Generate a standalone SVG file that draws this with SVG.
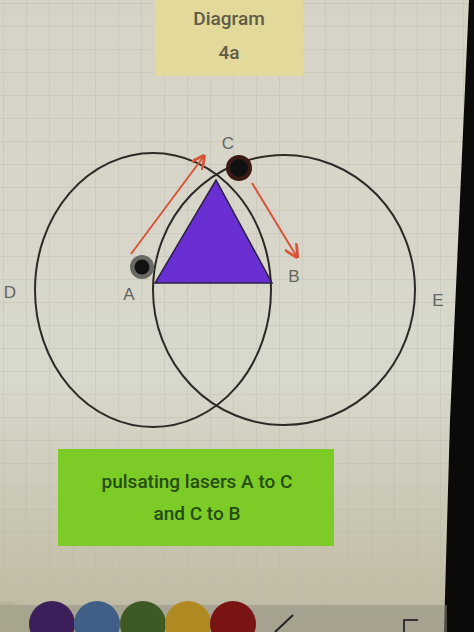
<svg xmlns="http://www.w3.org/2000/svg" width="474" height="632" viewBox="0 0 474 632">
<defs>
<pattern id="grid" width="23" height="23" patternUnits="userSpaceOnUse" x="4" y="4">
<path d="M23 0V23H0" fill="none" stroke="#b9b7ab" stroke-width="1"/>
</pattern>
<linearGradient id="bg" x1="0" y1="0" x2="0" y2="1">
<stop offset="0" stop-color="#d6d3c6"/>
<stop offset="0.6" stop-color="#d9d8cc"/>
<stop offset="1" stop-color="#bdb89f"/>
</linearGradient>
<marker id="arr" viewBox="0 0 10 10" refX="9" refY="5" markerWidth="7" markerHeight="7" orient="auto">
<path d="M0 0L10 5L0 10" fill="none" stroke="#d8553a" stroke-width="2"/>
</marker>
<style>
.lbl{font-family:"Liberation Sans",Arial,sans-serif;font-size:17px;fill:#66645e;text-anchor:middle}
.circ{fill:none;stroke:#2c2a26;stroke-width:2}
.laser{stroke:#d8553a;stroke-width:2;fill:none;marker-end:url(#arr)}
.box{font-family:"Roboto","Liberation Sans",sans-serif;text-anchor:middle;font-weight:500}
</style>
</defs>
<rect width="474" height="632" fill="url(#bg)"/>
<rect width="474" height="632" fill="url(#grid)" opacity="0.7"/>
<polygon points="469,0 474,0 474,632 444,632 450,420" fill="#0c0a08"/>

<g id="title">
<rect x="155" y="0" width="148" height="76" fill="#e3d99a"/>
<text class="box" x="229" y="25" font-size="19" fill="#5f5b48">Diagram</text>
<text class="box" x="229" y="59" font-size="19" fill="#5f5b48">4a</text>
</g>

<g id="circleD"><ellipse class="circ" cx="153" cy="290" rx="118" ry="137"/></g>
<g id="circleE"><ellipse class="circ" cx="284" cy="290" rx="131" ry="135"/></g>

<g id="triangle"><polygon points="155,283 272,283 216,180" fill="#6a2fd2" stroke="#2a2040" stroke-width="1.5"/></g>

<g id="connectors">
<line class="laser" x1="131" y1="254" x2="204" y2="156"/>
<line class="laser" x1="252" y1="183" x2="297" y2="257"/>
</g>

<g id="pointA">
<circle cx="142" cy="267" r="12" fill="#6a6864"/>
<circle cx="142" cy="267" r="7.5" fill="#111"/>
</g>
<g id="pointC">
<circle cx="239" cy="168" r="13" fill="#3a1a12"/>
<circle cx="239" cy="168" r="9" fill="#111"/>
</g>

<g id="labels">
<text class="lbl" x="228" y="149">C</text>
<text class="lbl" x="129" y="300">A</text>
<text class="lbl" x="294" y="282">B</text>
<text class="lbl" x="10" y="298">D</text>
<text class="lbl" x="438" y="306">E</text>
</g>

<g id="caption">
<rect x="58" y="449" width="276" height="97" fill="#7ccb26"/>
<text class="box" x="197" y="488" font-size="19" fill="#254d10">pulsating lasers A to C</text>
<text class="box" x="197" y="520" font-size="19" fill="#254d10">and C to B</text>
</g>

<g id="toolbar">
<rect x="0" y="605" width="447" height="27" fill="#8f8c80" opacity="0.5"/>
<circle cx="8" cy="624" r="22" fill="#a9a88a" opacity="0.5"/>
<circle cx="52" cy="624" r="23" fill="#3a1f5a"/>
<circle cx="97" cy="624" r="23" fill="#3f5f86"/>
<circle cx="143" cy="624" r="23" fill="#3d5a25"/>
<circle cx="188" cy="624" r="23" fill="#b08a20"/>
<circle cx="233" cy="624" r="23" fill="#7a1414"/>
<line x1="275" y1="632" x2="293" y2="615" stroke="#222" stroke-width="2"/>
<path d="M404 632V620H418" fill="none" stroke="#333" stroke-width="2"/>
</g>
</svg>
